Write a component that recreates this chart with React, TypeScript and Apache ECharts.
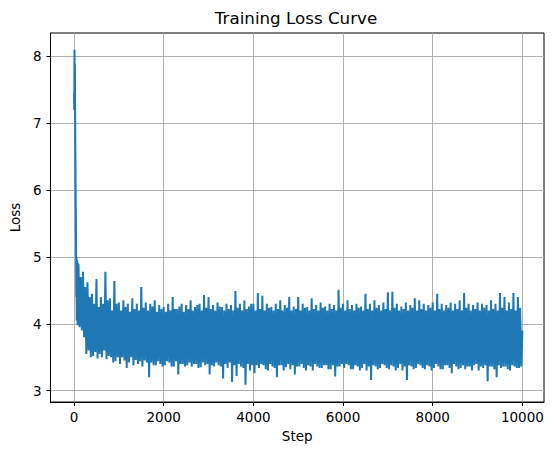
import { useEffect, useRef } from "react";
import * as echarts from "echarts";

// first steps: the loss falls from ~8 to ~4.5
const earlySteps = [0, 5, 10, 15, 20, 25, 30, 35, 40, 45, 50, 55, 60, 70, 80, 90];
const earlyLoss = [7.45, 7.2, 8.1, 7.5, 7.88, 7.0, 6.6, 6.0, 5.7, 5.2, 4.4, 5.0, 4.05, 4.95, 3.98, 4.9];

// after step 100 the loss is read every 25 steps (peaks and troughs of the noise)
const bandStart = 100;
const bandGap = 25;
const loss100to1975 = [
  4.88, 3.95, 4.7, 3.9, 4.78, 3.8, 4.55, 3.55,
  4.62, 3.6, 4.4, 3.5, 4.45, 3.52, 4.3, 3.58,
  4.67, 3.48, 4.25, 3.55, 4.4, 3.5, 4.3, 3.6,
  4.78, 3.47, 4.35, 3.52, 4.38, 3.5, 4.2, 3.42,
  4.64, 3.44, 4.3, 3.5, 4.32, 3.4, 4.2, 3.5,
  4.35, 3.45, 4.25, 3.34, 4.3, 3.42, 4.18, 3.5,
  4.38, 3.38, 4.22, 3.46, 4.3, 3.4, 4.2, 3.44,
  4.55, 3.36, 4.24, 3.45, 4.32, 3.42, 4.2, 3.2,
  4.3, 3.42, 4.26, 3.38, 4.35, 3.38, 4.18, 3.44,
  4.28, 3.4, 4.22, 3.36,
];
const loss2000to3975 = [
  4.25, 3.38, 4.18, 3.44, 4.3, 3.42, 4.2, 3.36,
  4.4, 3.36, 4.22, 3.44, 4.22, 3.24, 4.26, 3.4,
  4.3, 3.4, 4.18, 3.36, 4.28, 3.38, 4.22, 3.42,
  4.35, 3.36, 4.2, 3.4, 4.25, 3.4, 4.28, 3.34,
  4.3, 3.35, 4.2, 3.42, 4.43, 3.38, 4.24, 3.4,
  4.4, 3.24, 4.22, 3.38, 4.28, 3.36, 4.2, 3.42,
  4.32, 3.38, 4.26, 3.36, 4.25, 3.18, 4.2, 3.4,
  4.3, 3.34, 4.22, 3.42, 4.28, 3.13, 4.2, 3.38,
  4.49, 3.22, 4.24, 3.4, 4.3, 3.36, 4.2, 3.34,
  4.35, 3.09, 4.22, 3.4, 4.26, 3.3, 4.3, 3.38,
];
const loss4000to5975 = [
  4.3, 3.26, 4.2, 3.38, 4.46, 3.34, 4.22, 3.4,
  4.42, 3.38, 4.2, 3.32, 4.3, 3.3, 4.24, 3.4,
  4.25, 3.36, 4.2, 3.34, 4.3, 3.2, 4.22, 3.38,
  4.35, 3.38, 4.2, 3.3, 4.28, 3.35, 4.24, 3.4,
  4.4, 3.32, 4.2, 3.38, 4.26, 3.24, 4.22, 3.36,
  4.4, 3.36, 4.2, 3.4, 4.3, 3.34, 4.24, 3.3,
  4.25, 3.38, 4.2, 3.36, 4.38, 3.3, 4.22, 3.4,
  4.28, 3.36, 4.2, 3.34, 4.32, 3.34, 4.24, 3.38,
  4.26, 3.38, 4.2, 3.32, 4.3, 3.32, 4.22, 3.38,
  4.28, 3.21, 4.2, 3.36, 4.51, 3.36, 4.24, 3.4,
];
const loss6000to7975 = [
  4.3, 3.34, 4.2, 3.4, 4.35, 3.38, 4.22, 3.32,
  4.28, 3.32, 4.2, 3.38, 4.3, 3.36, 4.24, 3.3,
  4.26, 3.34, 4.2, 3.4, 4.45, 3.3, 4.22, 3.36,
  4.3, 3.16, 4.2, 3.38, 4.35, 3.36, 4.24, 3.32,
  4.28, 3.34, 4.2, 3.4, 4.32, 3.38, 4.22, 3.34,
  4.47, 3.32, 4.2, 3.38, 4.48, 3.36, 4.24, 3.3,
  4.3, 3.34, 4.2, 3.4, 4.26, 3.3, 4.22, 3.36,
  4.32, 3.16, 4.2, 3.38, 4.28, 3.36, 4.24, 3.32,
  4.38, 3.34, 4.2, 3.4, 4.35, 3.38, 4.22, 3.34,
  4.3, 3.32, 4.2, 3.38, 4.28, 3.36, 4.24, 3.3,
];
const loss8000to9975 = [
  4.32, 3.34, 4.2, 3.4, 4.45, 3.36, 4.22, 3.32,
  4.3, 3.32, 4.2, 3.38, 4.28, 3.38, 4.24, 3.34,
  4.32, 3.26, 4.2, 3.4, 4.3, 3.36, 4.22, 3.32,
  4.35, 3.34, 4.2, 3.38, 4.46, 3.32, 4.24, 3.36,
  4.3, 3.36, 4.2, 3.3, 4.28, 3.38, 4.22, 3.4,
  4.32, 3.3, 4.2, 3.36, 4.3, 3.34, 4.24, 3.38,
  4.28, 3.14, 4.2, 3.36, 4.35, 3.36, 4.22, 3.32,
  4.3, 3.2, 4.2, 3.38, 4.46, 3.34, 4.24, 3.36,
  4.4, 3.36, 4.2, 3.32, 4.32, 3.3, 4.22, 3.38,
  4.46, 3.36, 4.2, 3.34, 4.4, 3.34, 4.24, 3.36,
];
const lastStep = 9999;
const lastLoss = 3.9;

const xTicks = [0, 2000, 4000, 6000, 8000, 10000];
const yTicks = [3, 4, 5, 6, 7, 8];

const App = () => {
  const chartRef = useRef<HTMLDivElement>(null);

  useEffect(() => {
    if (!chartRef.current) return;
    const chart = echarts.init(chartRef.current, null, { renderer: "svg" });

    const bandLoss = [
      ...loss100to1975,
      ...loss2000to3975,
      ...loss4000to5975,
      ...loss6000to7975,
      ...loss8000to9975,
    ];
    const data: [number, number][] = [
      ...earlySteps.map((s, i) => [s, earlyLoss[i]] as [number, number]),
      ...bandLoss.map((v, i) => [bandStart + i * bandGap, v] as [number, number]),
      [lastStep, lastLoss],
    ];

    const font = "DejaVu Sans";
    const splitLine = { show: true, lineStyle: { color: "#b0b0b0", width: 1 } };

    const option: echarts.EChartsOption = {
      animation: false,
      backgroundColor: "#fff",
      textStyle: { fontFamily: font },
      grid: {
        left: 48,
        right: 10,
        top: 33,
        bottom: 53,
        show: true,
        borderColor: "#000",
        borderWidth: 1,
        backgroundColor: "transparent",
      },
      graphic: [
        {
          type: "text",
          x: 296,
          y: 18,
          style: {
            text: "Training Loss Curve",
            fontFamily: font,
            fontSize: 16.7,
            fill: "#000",
            textAlign: "center",
            textVerticalAlign: "middle",
          },
        },
      ],
      xAxis: {
        type: "value",
        min: -525,
        max: 10482,
        name: "Step",
        nameLocation: "middle",
        nameGap: 26,
        nameTextStyle: { color: "#000", fontSize: 13.5, fontFamily: font },
        axisLine: { show: true, onZero: false, lineStyle: { color: "#000", width: 1 } },
        axisTick: { show: true, length: 4, inside: false, customValues: xTicks, lineStyle: { color: "#000" } },
        axisLabel: {
          color: "#000",
          fontSize: 13.5,
          margin: 8,
          customValues: xTicks,
          fontFamily: font,
          formatter: (v: number) => String(v),
        },
        splitLine,
      },
      yAxis: {
        type: "value",
        min: 2.83,
        max: 8.35,
        name: "Loss",
        nameLocation: "middle",
        nameGap: 26,
        nameTextStyle: { color: "#000", fontSize: 13.5, fontFamily: font },
        axisLine: { show: true, onZero: false, lineStyle: { color: "#000", width: 1 } },
        axisTick: { show: true, length: 4, inside: false, customValues: yTicks, lineStyle: { color: "#000" } },
        axisLabel: {
          color: "#000",
          fontSize: 13.5,
          margin: 9,
          customValues: yTicks,
          fontFamily: font,
          formatter: (v: number) => String(v),
        },
        splitLine,
      },
      series: [
        {
          type: "line",
          data,
          showSymbol: false,
          symbol: "none",
          lineStyle: { color: "#1f77b4", width: 2 },
          silent: true,
        },
      ],
    };

    chart.setOption(option);
    return () => {
      chart.dispose();
    };
  }, []);

  return (
    <div
      ref={chartRef}
      style={{ position: "fixed", left: 0, top: 0, width: 554, height: 455 }}
    />
  );
};

export default App;
